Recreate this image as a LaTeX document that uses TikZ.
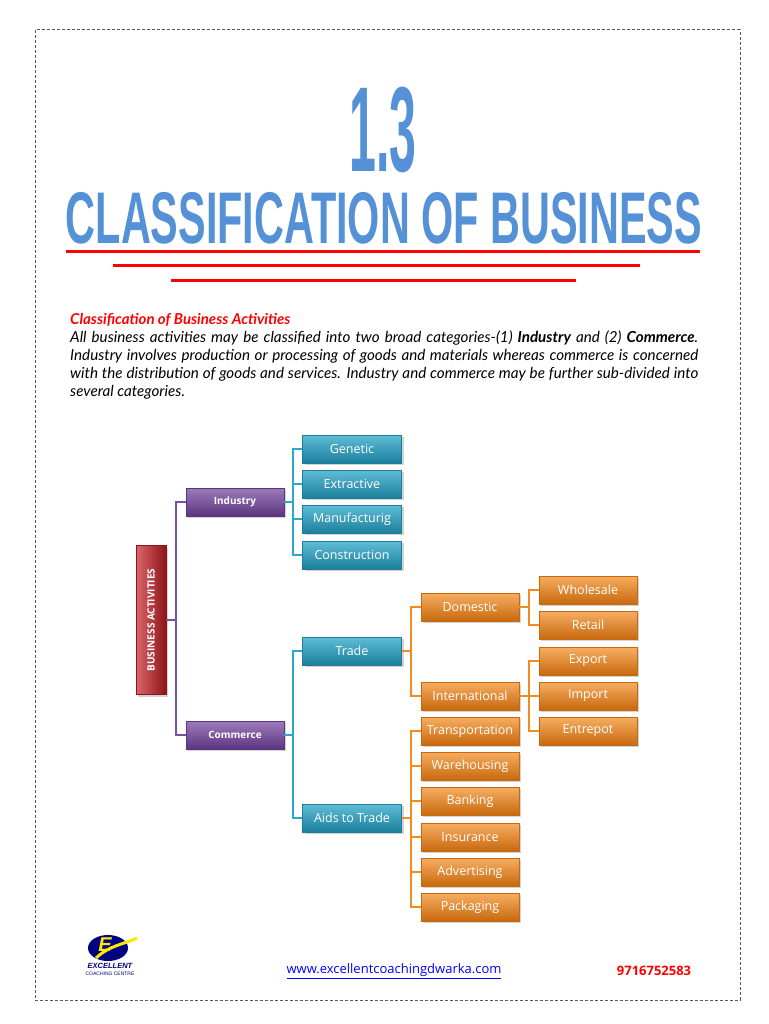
\documentclass[tikz,border=0pt]{standalone}
\usepackage{fontspec}
\setmainfont{Open Sans}
\newfontfamily\titlefont{Liberation Sans}
\newfontfamily\parafont{Lato}
\usetikzlibrary{shadows}
\definecolor{tealc}{HTML}{2AA7C9}
\definecolor{tealdk}{HTML}{1B7F9C}
\definecolor{purc}{HTML}{7C4FA3}
\definecolor{purdk}{HTML}{5B3580}
\definecolor{orc}{HTML}{F38B1E}
\definecolor{ordk}{HTML}{C8690E}
\definecolor{redc}{HTML}{C9262C}
\definecolor{reddk}{HTML}{8E1418}
\definecolor{titleblue}{HTML}{5591D6}
\tikzset{
 box/.style={minimum height=28pt, inner sep=0pt, text=white, font=\fontsize{12.5}{12.5}\selectfont, drop shadow={shadow xshift=2pt,shadow yshift=-2pt,opacity=.35}},
 tealbox/.style={box, minimum width=99pt, top color=tealc!75!white, bottom color=tealdk, draw=tealdk},
 purbox/.style={box, minimum width=98pt, top color=purc!75!white, bottom color=purdk, draw=purdk, font=\bfseries\fontsize{10}{10}\selectfont},
 orbox/.style={box, minimum width=98pt, top color=orc!70!white, bottom color=ordk, draw=ordk},
 tlink/.style={tealc, line width=1.6pt},
 plink/.style={purc, line width=1.6pt},
 olink/.style={orc, line width=1.6pt},
 redline/.style={red, line width=3pt},
 titletext/.style={font=\titlefont\bfseries\fontsize{78}{78}\selectfont, text=titleblue},
}
\begin{document}
\begin{tikzpicture}[x=1pt,y=-1pt]
\useasboundingbox (0,0) rectangle (768,1024);
\draw[gray!70!black, densely dashed, line width=1pt] (35,30) rectangle (740,1000);
% titles
\node[titletext, xscale=0.62, yscale=1.55] (t1) at (383,130) {1.3};
\node[titletext, font=\titlefont\bfseries\fontsize{60}{60}\selectfont, xscale=0.69, yscale=1.22] (t2) at (384,218) {CLASSIFICATION OF BUSINESS};
\draw[redline] (66,251) -- (700,251);
\draw[redline] (113,265) -- (640,265);
\draw[redline] (171,280) -- (576,280);
% paragraph
\node[anchor=west, text=red, font=\parafont\itshape\bfseries\fontsize{15}{15}\selectfont, inner sep=0pt] (h) at (70,320) {Classification of Business Activities};
\node[anchor=north west, inner sep=0pt, text width=628pt, align=justify, font=\parafont\itshape\fontsize{15.2}{18}\selectfont] (p) at (70,331)
{All business activities may be classified into two broad categories-(1) \textbf{Industry} and (2) \textbf{Commerce}. Industry involves production or processing of goods and materials whereas commerce is concerned with the distribution of goods and services. Industry and commerce may be further sub-divided into several categories.};
% diagram
\node[box, minimum width=30pt, minimum height=149pt, top color=redc!70!white, bottom color=reddk, draw=reddk, shading angle=90] (root) at (151,620) {};
\node[rotate=90, text=white, font=\bfseries\fontsize{10}{10}\selectfont] (rootlabel) at (151,620) {BUSINESS ACTIVITIES};
\node[purbox] (ind) at (235,502) {Industry};
\node[purbox] (com) at (235,735) {Commerce};
\node[tealbox] (gen) at (352,449) {Genetic};
\node[tealbox] (ext) at (352,484) {Extractive};
\node[tealbox] (man) at (352,519) {Manufacturig};
\node[tealbox] (con) at (352,555) {Construction};
\node[tealbox] (tra) at (352,651) {Trade};
\node[tealbox] (aid) at (352,818) {Aids to Trade};
\node[orbox] (dom) at (470,607) {Domestic};
\node[orbox] (int) at (470,696) {International};
\node[orbox] (tp) at (470,731) {Transportation};
\node[orbox] (wh) at (470,766) {Warehousing};
\node[orbox] (bk) at (470,801) {Banking};
\node[orbox] (ins) at (470,837) {Insurance};
\node[orbox] (adv) at (470,872) {Advertising};
\node[orbox] (pk) at (470,907) {Packaging};
\node[orbox] (whs) at (588,590) {Wholesale};
\node[orbox] (ret) at (588,625) {Retail};
\node[orbox] (exp) at (588,661) {Export};
\node[orbox] (imp) at (588,696) {Import};
\node[orbox] (ent) at (588,731) {Entrepot};
% connectors
\draw[plink] (root.east) -- ++(10,0);
\draw[plink] (ind.west) -| ([xshift=10pt]root.east) |- (com.west);
\foreach \c in {gen,ext,man,con} \draw[tlink] (ind.east) -- ++(9,0) |- (\c.west);
\foreach \c in {tra,aid} \draw[tlink] (com.east) -- ++(9,0) |- (\c.west);
\foreach \c in {dom,int} \draw[olink] (tra.east) -- ++(9,0) |- (\c.west);
\foreach \c in {tp,wh,bk,ins,adv,pk} \draw[olink] (aid.east) -- ++(9,0) |- (\c.west);
\foreach \c in {whs,ret} \draw[olink] (dom.east) -- ++(10,0) |- (\c.west);
\foreach \c in {exp,imp,ent} \draw[olink] (int.east) -- ++(10,0) |- (\c.west);
% footer logo
\fill[blue!50!black] (108,948) ellipse (20pt and 13pt);
\draw[yellow!90!orange, line width=3pt] (96,958) .. controls (110,945) and (125,944) .. (137,938);
\node[text=yellow!90!orange, font=\titlefont\bfseries\itshape\fontsize{20}{20}\selectfont] (logoE) at (105,945) {E};
\node[text=blue!50!black, font=\titlefont\bfseries\itshape\fontsize{7.5}{7.5}\selectfont, inner sep=0pt] (lg1) at (110,966) {EXCELLENT};
\node[text=blue!50!black, font=\titlefont\fontsize{5}{5}\selectfont, inner sep=0pt] (lg2) at (110,974) {COACHING CENTRE};
\node[text=blue, font=\fontsize{13}{13}\selectfont, inner sep=0pt] (url) at (394,971) {\underline{www.excellentcoachingdwarka.com}};
\node[text=red, font=\bfseries\fontsize{13}{13}\selectfont, inner sep=0pt] (ph) at (654,971) {9716752583};
\end{tikzpicture}
\end{document}
